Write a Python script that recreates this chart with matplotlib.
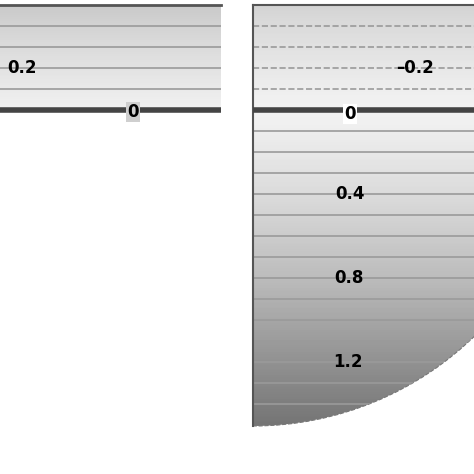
import numpy as np
import matplotlib.pyplot as plt
from matplotlib.patches import Circle, Rectangle

# contour levels (value per line) and labels
levels_left = [0.1, 0.2, 0.3, 0.4]
levels_right = [-0.4, -0.3, -0.2, -0.1, 0.1, 0.2, 0.3, 0.4, 0.5, 0.6, 0.7,
                0.8, 0.9, 1.0, 1.1, 1.2, 1.3, 1.4]
labels_left = ["0.2"]
labels_left_val = [0.2]
labels_right = ["\u20130.2", "0.4", "0.8", "1.2"]
labels_right_val = [-0.2, 0.4, 0.8, 1.2]

Y0, SCALE = 110, -210   # pixel row of zero line, px per unit (left panel goes up)

fig = plt.figure(figsize=(4.74, 4.74), dpi=100)
ax = fig.add_axes([0, 0, 1, 1])
ax.set_xlim(0, 474)
ax.set_ylim(474, 0)
ax.axis('off')

# left panel: value grows upward
yy = np.linspace(5, 110, 200)
xx = np.linspace(0, 221, 50)
X, Y = np.meshgrid(xx, yy)
Z = (Y - Y0) / SCALE
ax.contourf(X, Y, Z, levels=200, cmap='Greys', vmin=-0.3, vmax=2.2)
ax.contour(X, Y, Z, levels=levels_left, colors='#9a9a9a', linewidths=1.2)
ax.plot([0, 221], [5, 5], color='#555555', lw=2)
ax.plot([0, 221], [110, 110], color='#444444', lw=4, solid_capstyle='butt')
for t, v in zip(labels_left, labels_left_val):
    ax.text(22, Y0 + SCALE * v, t, fontsize=12, fontweight='bold', ha='center', va='center')
ax.text(133, 112, "0", fontsize=12, fontweight='bold', ha='center', va='center',
        bbox=dict(facecolor='#cfcfcf', edgecolor='none', pad=1))

# right panel: value grows downward, clipped by circle
yy = np.linspace(5, 430, 400)
xx = np.linspace(253, 474, 50)
X, Y = np.meshgrid(xx, yy)
Z = (Y - Y0) / 210
clip = Circle((253, 108), 318, transform=ax.transData)
cf = ax.contourf(X, Y, np.abs(Z), levels=200, cmap='Greys', vmin=-0.3, vmax=2.6)
cl = ax.contour(X, Y, Z, levels=levels_right, colors='#9a9a9a', linewidths=1.2)
cf.set_clip_path(clip)
cl.set_clip_path(clip)
arc = Circle((253, 108), 318, fill=False, edgecolor='#777777', lw=0.8, ls='--')
ax.add_patch(arc)
arc.set_clip_path(Rectangle((253, 110), 221, 330, transform=ax.transData))
ax.plot([253, 253], [5, 426], color='#555555', lw=1.5)
ax.plot([253, 474], [5, 5], color='#555555', lw=1.5)
ax.plot([253, 474], [110, 110], color='#444444', lw=4, solid_capstyle='butt')
ax.text(350, 114, "0", fontsize=12, fontweight='bold', ha='center', va='center',
        bbox=dict(facecolor='white', edgecolor='none', pad=1))
xs = [415, 350, 349, 348]
for t, v, x in zip(labels_right, labels_right_val, xs):
    ax.text(x, Y0 + 210 * v, t, fontsize=12, fontweight='bold', ha='center', va='center')

fig.savefig('out.png', dpi=100)
